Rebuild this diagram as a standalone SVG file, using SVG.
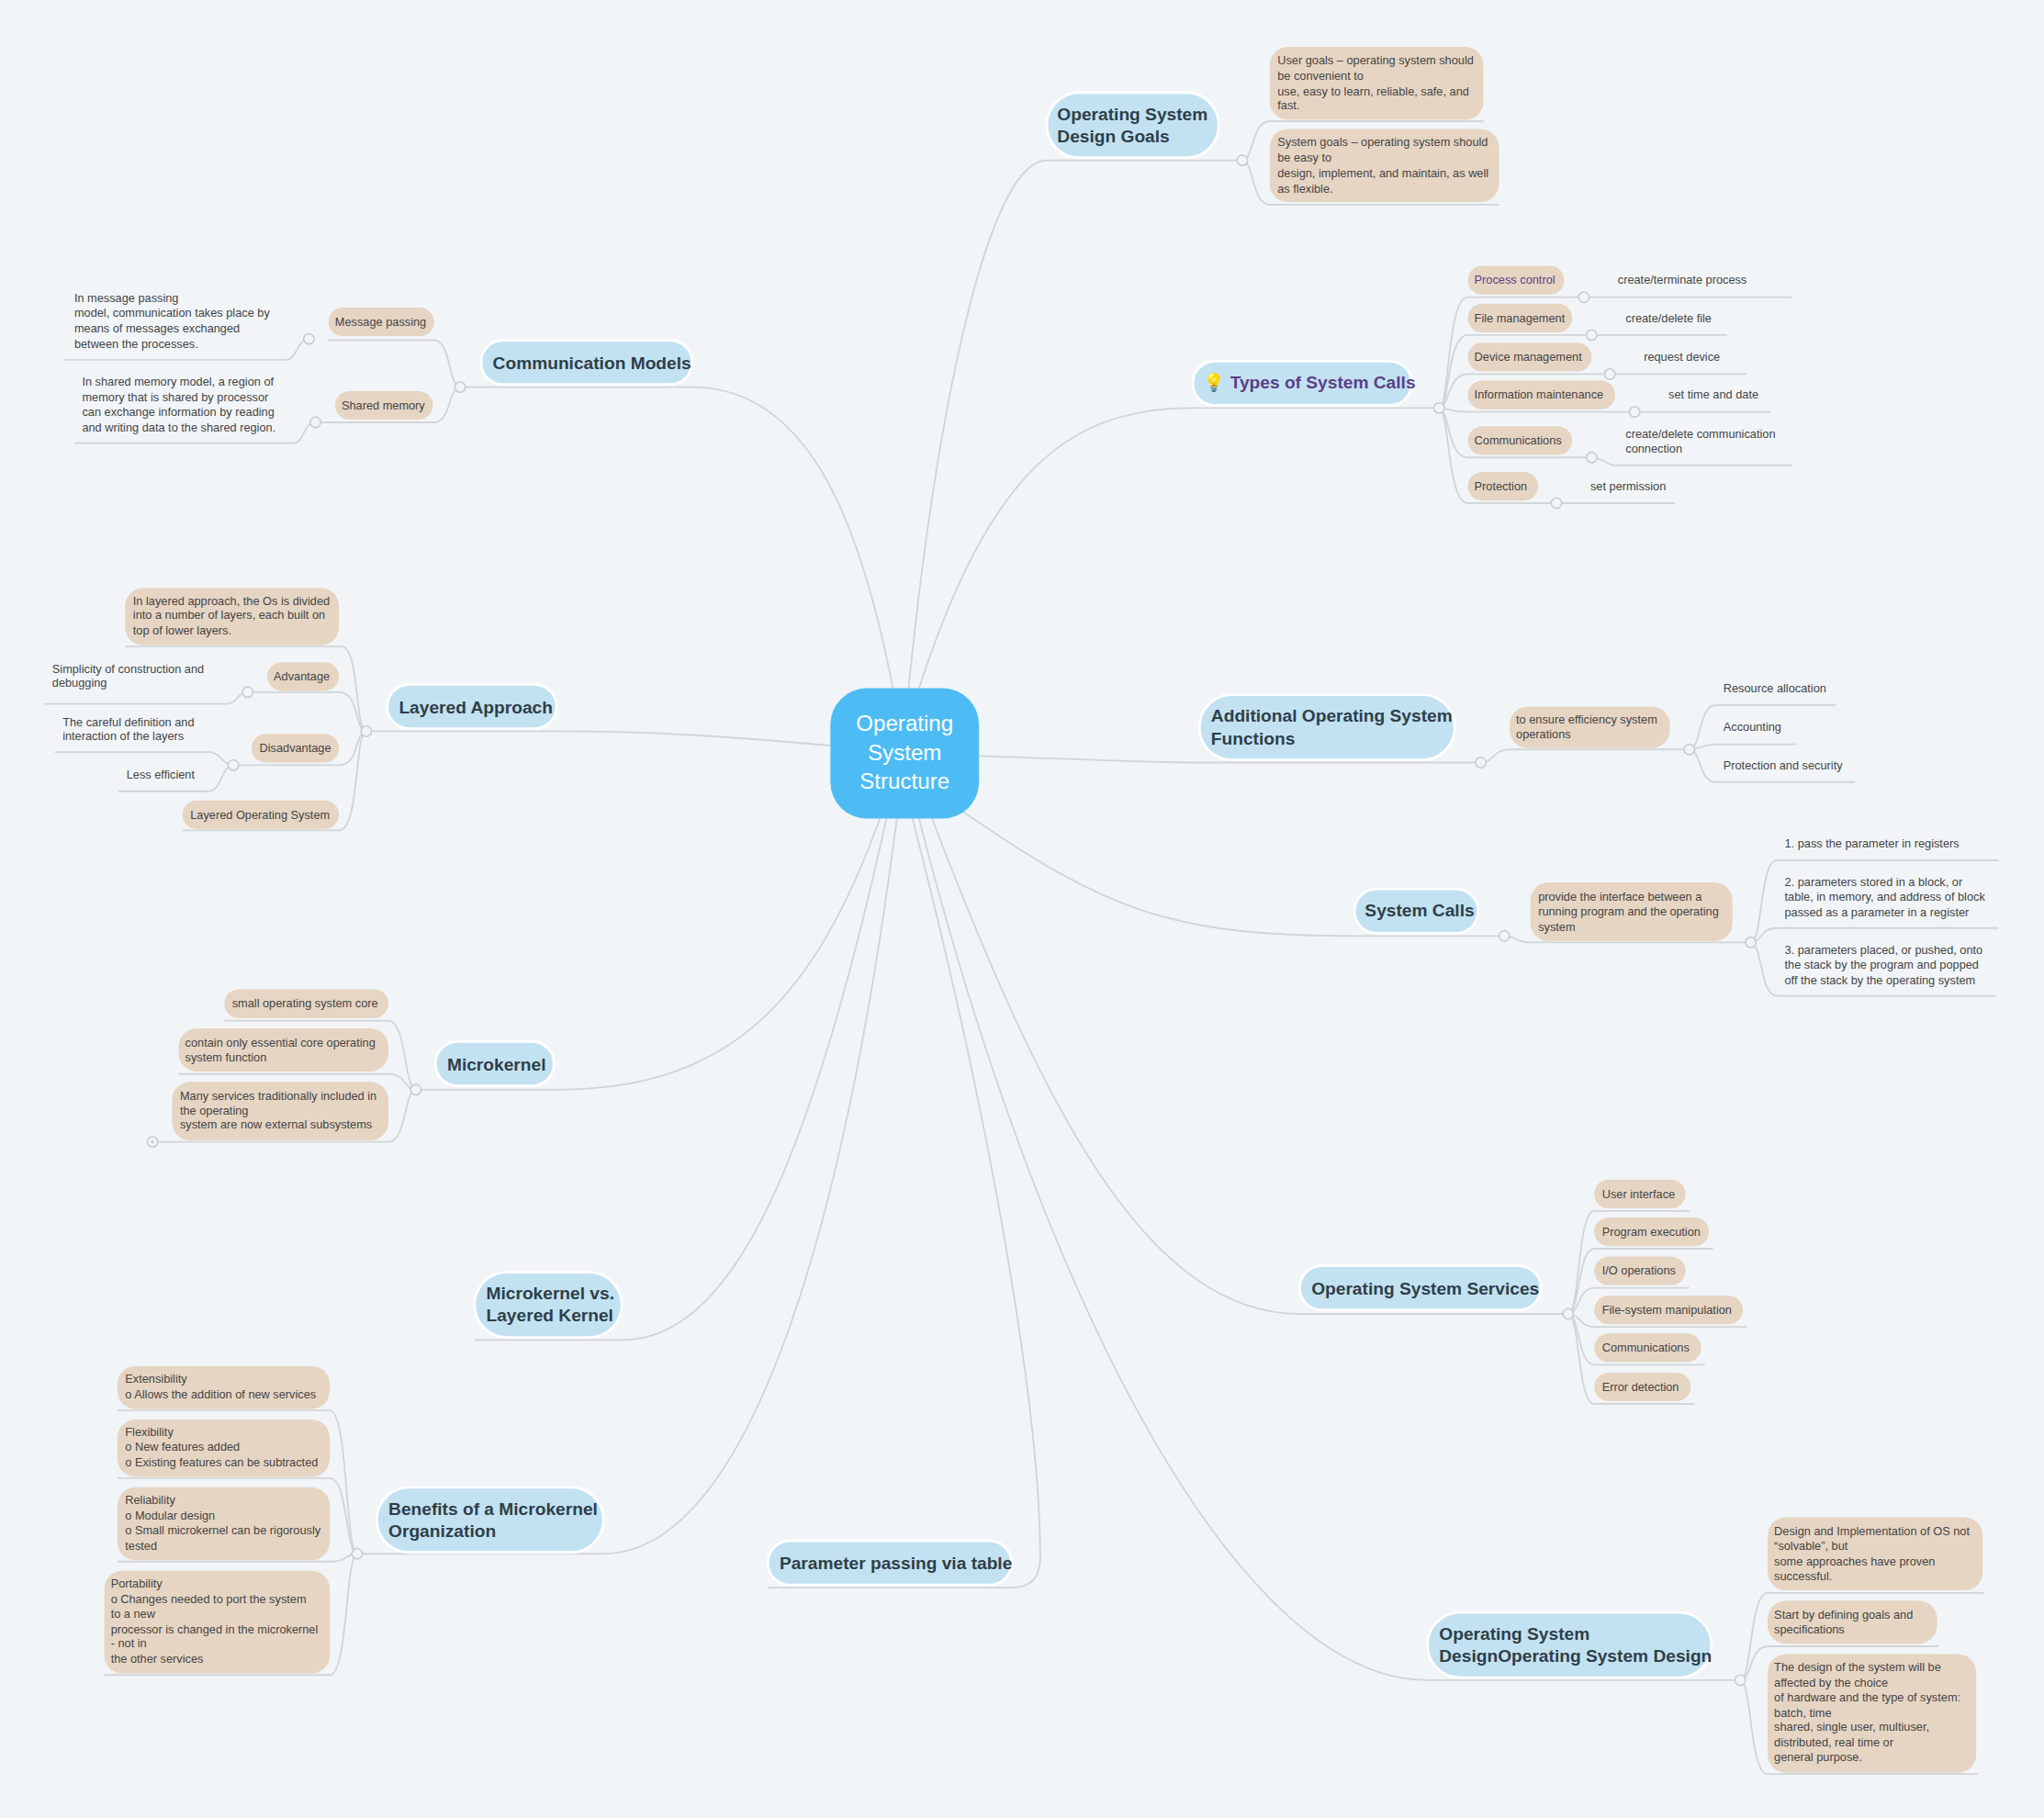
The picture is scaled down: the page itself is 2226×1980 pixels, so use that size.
<svg xmlns="http://www.w3.org/2000/svg" width="2226" height="1980" viewBox="0 0 2226 1980">
<style>
.c{fill:none;stroke:#d2d5d8;stroke-width:1.3}
.k{fill:#f1f5f8;stroke:#c8ccd0;stroke-width:1.1}
.m{fill:#c2e2f2;stroke:#fff;stroke-width:2}
.l{fill:#e6d5c3}
.t{font-family:"Liberation Sans",Arial,sans-serif;font-size:9px;fill:#444}
.h{font-family:"Liberation Sans",Arial,sans-serif;font-size:13.5px;font-weight:bold;fill:#2f3e48}
</style>
<rect width="2226" height="1980" fill="#f1f5f8"/>
<g transform="scale(1.41964)">
<g id="connectors">
<path class="c" d="M697,528 C720,300 760,123 803,123 L953,123"/>
<path class="c" d="M705,528 C760,360 820,313 915,313 L1104,313"/>
<path class="c" d="M751,580 C850,583 880,585 920,585 L1136,585"/>
<path class="c" d="M735,620 C850,700 900,718 1039,718 L1154,718"/>
<path class="c" d="M715,628 C800,850 880,1008 997,1008 L1203,1008"/>
<path class="c" d="M705,628 C800,1000 950,1289 1095,1289 L1335,1289"/>
<path class="c" d="M700,628 C770,900 798,1100 798,1195 Q798,1218 776,1218 L589,1218"/>
<path class="c" d="M688,628 C640,1000 560,1192 463,1192 L274,1192"/>
<path class="c" d="M680,628 C620,900 560,1028 477,1028 L364,1028"/>
<path class="c" d="M675,628 C620,780 550,836 425,836 L319,836"/>
<path class="c" d="M637,572 C560,565 500,561 427,561 L281,561"/>
<path class="c" d="M685,528 C660,400 620,297 531,297 L353,297"/>
<!-- design goals -->
<path class="c" d="M953,123 C962,123 960,93 974,93 L1138,93"/>
<path class="c" d="M953,123 C962,123 960,157 974,157 L1150,157"/>
<!-- types -->
<path class="c" d="M1104,313 C1112,313 1110,228 1126,228 L1375,228"/>
<path class="c" d="M1104,313 C1112,313 1110,257 1126,257 L1325,257"/>
<path class="c" d="M1104,313 C1112,313 1110,287 1126,287 L1340,287"/>
<path class="c" d="M1104,313 C1112,313 1112,316 1126,316 L1358,316"/>
<path class="c" d="M1104,313 C1112,313 1110,351 1126,351 L1221,351 C1230,351 1232,357 1240,357 L1375,357"/>
<path class="c" d="M1104,313 C1112,313 1110,386 1126,386 L1285,386"/>
<!-- additional -->
<path class="c" d="M1136,585 C1146,585 1145,575 1158,575 L1296,575"/>
<path class="c" d="M1296,575 C1305,575 1303,541 1316,541 L1408,541"/>
<path class="c" d="M1296,575 C1305,575 1305,571 1316,571 L1378,571"/>
<path class="c" d="M1296,575 C1305,575 1303,600 1316,600 L1423,600"/>
<!-- system calls -->
<path class="c" d="M1154,718 C1164,718 1162,723 1174,723 L1343,723"/>
<path class="c" d="M1343,723 C1352,723 1350,660 1363,660 L1533,660"/>
<path class="c" d="M1343,723 C1352,723 1350,712 1363,712 L1533,712"/>
<path class="c" d="M1343,723 C1352,723 1350,764 1363,764 L1531,764"/>
<!-- services -->
<path class="c" d="M1203,1008 C1212,1008 1210,929 1223,929 L1296,929"/>
<path class="c" d="M1203,1008 C1212,1008 1210,958 1223,958 L1314,958"/>
<path class="c" d="M1203,1008 C1212,1008 1210,988 1223,988 L1296,988"/>
<path class="c" d="M1203,1008 C1212,1008 1212,1018 1223,1018 L1340,1018"/>
<path class="c" d="M1203,1008 C1212,1008 1210,1047 1223,1047 L1308,1047"/>
<path class="c" d="M1203,1008 C1212,1008 1210,1077 1223,1077 L1300,1077"/>
<!-- os design -->
<path class="c" d="M1335,1289 C1344,1289 1342,1222 1356,1222 L1522,1222"/>
<path class="c" d="M1335,1289 C1344,1289 1342,1263 1356,1263 L1487,1263"/>
<path class="c" d="M1335,1289 C1344,1289 1342,1361 1356,1361 L1517,1361"/>
<!-- communication models -->
<path class="c" d="M353,297 C344,297 346,261 333,261 L252,261"/>
<path class="c" d="M353,297 C344,297 346,324 333,324 L242,324"/>
<path class="c" d="M237,260 C228,260 228,276 219,276 L49,276"/>
<path class="c" d="M242,324 C233,324 233,340 225,340 L57,340"/>
<!-- layered -->
<path class="c" d="M281,561 C272,561 276,496 262,496 L96,496"/>
<path class="c" d="M281,561 C272,561 276,531 260,531 L190,531"/>
<path class="c" d="M281,561 C272,561 276,587 260,587 L179,587"/>
<path class="c" d="M281,561 C272,561 276,637 260,637 L140,637"/>
<path class="c" d="M190,531 C182,531 182,540 174,540 L34,540"/>
<path class="c" d="M179,587 C170,587 170,577 160,577 L42,577"/>
<path class="c" d="M179,587 C170,587 170,607 160,607 L91,607"/>
<!-- microkernel -->
<path class="c" d="M319,836 C310,836 312,783 298,783 L172,783"/>
<path class="c" d="M319,836 C310,836 312,824 298,824 L137,824"/>
<path class="c" d="M319,836 C310,836 312,876 298,876 L117,876"/>
<!-- benefits -->
<path class="c" d="M274,1192 C265,1192 267,1082 253,1082 L90,1082"/>
<path class="c" d="M274,1192 C265,1192 267,1134 253,1134 L90,1134"/>
<path class="c" d="M274,1192 C265,1192 267,1198 253,1198 L90,1198"/>
<path class="c" d="M274,1192 C265,1192 267,1285 253,1285 L80,1285"/>
<g>
<circle class="k" cx="953" cy="123" r="4"/><circle class="k" cx="1104" cy="313" r="4"/>
<circle class="k" cx="1215" cy="228" r="4"/><circle class="k" cx="1221" cy="257" r="4"/>
<circle class="k" cx="1235" cy="287" r="4"/><circle class="k" cx="1254" cy="316" r="4"/>
<circle class="k" cx="1221" cy="351" r="4"/><circle class="k" cx="1194" cy="386" r="4"/>
<circle class="k" cx="1136" cy="585" r="4"/><circle class="k" cx="1296" cy="575" r="4"/>
<circle class="k" cx="1154" cy="718" r="4"/><circle class="k" cx="1343" cy="723" r="4"/>
<circle class="k" cx="1203" cy="1008" r="4"/><circle class="k" cx="1335" cy="1289" r="4"/>
<circle class="k" cx="353" cy="297" r="4"/><circle class="k" cx="237" cy="260" r="4"/>
<circle class="k" cx="242" cy="324" r="4"/><circle class="k" cx="281" cy="561" r="4"/>
<circle class="k" cx="190" cy="531" r="4"/><circle class="k" cx="179" cy="587" r="4"/>
<circle class="k" cx="319" cy="836" r="4"/><circle class="k" cx="274" cy="1192" r="4"/>
<circle class="k" cx="117" cy="876" r="4"/><circle cx="117" cy="876" r="1.2" fill="#c8ccd0"/>
</g>
</g>
<g id="center">
<rect x="637" y="528" width="114" height="100" rx="28" fill="#4dbcf5"/>
<text font-family="Liberation Sans,Arial,sans-serif" font-size="17" fill="#fff" text-anchor="middle"><tspan x="694" y="561">Operating</tspan><tspan x="694" y="583">System</tspan><tspan x="694" y="605">Structure</tspan></text>
</g>
<g id="n-goals"><rect class="m" x="803" y="71" width="132" height="50" rx="25"/><text class="h"><tspan x="811" y="92">Operating System</tspan><tspan x="811" y="109">Design Goals</tspan></text></g>
<g id="n-types"><rect class="m" x="915" y="277" width="168" height="34" rx="17"/><text class="h" x="923" y="298" style="fill:#5b3f86">💡 Types of System Calls</text></g>
<g id="n-additional"><rect class="m" x="920" y="533" width="196" height="50" rx="25"/><text class="h"><tspan x="929" y="554">Additional Operating System</tspan><tspan x="929" y="571">Functions</tspan></text></g>
<g id="n-syscalls"><rect class="m" x="1039" y="682" width="95" height="34" rx="17"/><text class="h" x="1047" y="703">System Calls</text></g>
<g id="n-services"><rect class="m" x="997" y="971" width="185" height="34" rx="17"/><text class="h" x="1006" y="993">Operating System Services</text></g>
<g id="n-design"><rect class="m" x="1095" y="1237" width="218" height="50" rx="25"/><text class="h"><tspan x="1104" y="1258">Operating System</tspan><tspan x="1104" y="1275">DesignOperating System Design</tspan></text></g>
<g id="n-param"><rect class="m" x="589" y="1182" width="187" height="34" rx="17"/><text class="h" x="598" y="1204">Parameter passing via table</text></g>
<g id="n-benefits"><rect class="m" x="289" y="1141" width="174" height="50" rx="25"/><text class="h"><tspan x="298" y="1162">Benefits of a Microkernel</tspan><tspan x="298" y="1179">Organization</tspan></text></g>
<g id="n-mvl"><rect class="m" x="364" y="976" width="113" height="50" rx="25"/><text class="h"><tspan x="373" y="997">Microkernel vs.</tspan><tspan x="373" y="1014">Layered Kernel</tspan></text></g>
<g id="n-micro"><rect class="m" x="334" y="799" width="91" height="34" rx="17"/><text class="h" x="343" y="821">Microkernel</text></g>
<g id="n-layered"><rect class="m" x="297" y="525" width="130" height="34" rx="17"/><text class="h" x="306" y="547">Layered Approach</text></g>
<g id="n-comm"><rect class="m" x="369" y="261" width="162" height="34" rx="17"/><text class="h" x="378" y="283">Communication Models</text></g>
<!-- leaves -->
<g id="l-goal1"><rect class="l" x="974" y="36" width="164" height="56" rx="14"/><text class="t"><tspan x="980" y="49">User goals – operating system should</tspan><tspan x="980" y="61">be convenient to</tspan><tspan x="980" y="73">use, easy to learn, reliable, safe, and</tspan><tspan x="980" y="84">fast.</tspan></text></g>
<g id="l-goal2"><rect class="l" x="974" y="99" width="176" height="56" rx="14"/><text class="t"><tspan x="980" y="112">System goals – operating system should</tspan><tspan x="980" y="124">be easy to</tspan><tspan x="980" y="136">design, implement, and maintain, as well</tspan><tspan x="980" y="148">as flexible.</tspan></text></g>
<g id="l-pc"><rect class="l" x="1126" y="204" width="74" height="22" rx="11"/><text class="t" x="1131" y="218" style="fill:#5b3f86">Process control</text><text class="t" x="1241" y="218">create/terminate process</text></g>
<g id="l-fm"><rect class="l" x="1126" y="233" width="80" height="22" rx="11"/><text class="t" x="1131" y="247">File management</text><text class="t" x="1247" y="247">create/delete file</text></g>
<g id="l-dm"><rect class="l" x="1126" y="263" width="95" height="22" rx="11"/><text class="t" x="1131" y="277">Device management</text><text class="t" x="1261" y="277">request device</text></g>
<g id="l-im"><rect class="l" x="1126" y="292" width="113" height="22" rx="11"/><text class="t" x="1131" y="306">Information maintenance</text><text class="t" x="1280" y="306">set time and date</text></g>
<g id="l-cm"><rect class="l" x="1126" y="327" width="80" height="22" rx="11"/><text class="t" x="1131" y="341">Communications</text><text class="t"><tspan x="1247" y="336">create/delete communication</tspan><tspan x="1247" y="347">connection</tspan></text></g>
<g id="l-pr"><rect class="l" x="1126" y="362" width="54" height="22" rx="11"/><text class="t" x="1131" y="376">Protection</text><text class="t" x="1220" y="376">set permission</text></g>
<g id="l-eff"><rect class="l" x="1158" y="542" width="123" height="32" rx="14"/><text class="t"><tspan x="1163" y="555">to ensure efficiency system</tspan><tspan x="1163" y="566">operations</tspan></text><text class="t" x="1322" y="531">Resource allocation</text><text class="t" x="1322" y="561">Accounting</text><text class="t" x="1322" y="590">Protection and security</text></g>
<g id="l-iface"><rect class="l" x="1174" y="677" width="155" height="45" rx="14"/><text class="t"><tspan x="1180" y="691">provide the interface between a</tspan><tspan x="1180" y="702">running program and the operating</tspan><tspan x="1180" y="714">system</tspan></text></g>
<g id="l-p1"><text class="t" x="1369" y="650">1. pass the parameter in registers</text></g>
<g id="l-p2"><text class="t"><tspan x="1369" y="680">2. parameters stored in a block, or</tspan><tspan x="1369" y="691">table, in memory, and address of block</tspan><tspan x="1369" y="703">passed as a parameter in a register</tspan></text></g>
<g id="l-p3"><text class="t"><tspan x="1369" y="732">3. parameters placed, or pushed, onto</tspan><tspan x="1369" y="743">the stack by the program and popped</tspan><tspan x="1369" y="755">off the stack by the operating system</tspan></text></g>
<g id="l-s1"><rect class="l" x="1223" y="905" width="70" height="22" rx="11"/><text class="t" x="1229" y="919">User interface</text></g>
<g id="l-s2"><rect class="l" x="1223" y="934" width="88" height="22" rx="11"/><text class="t" x="1229" y="948">Program execution</text></g>
<g id="l-s3"><rect class="l" x="1223" y="964" width="70" height="22" rx="11"/><text class="t" x="1229" y="978">I/O operations</text></g>
<g id="l-s4"><rect class="l" x="1223" y="994" width="114" height="22" rx="11"/><text class="t" x="1229" y="1008">File-system manipulation</text></g>
<g id="l-s5"><rect class="l" x="1223" y="1023" width="82" height="22" rx="11"/><text class="t" x="1229" y="1037">Communications</text></g>
<g id="l-s6"><rect class="l" x="1223" y="1053" width="74" height="22" rx="11"/><text class="t" x="1229" y="1067">Error detection</text></g>
<g id="l-d1"><rect class="l" x="1356" y="1164" width="165" height="56" rx="14"/><text class="t"><tspan x="1361" y="1178">Design and Implementation of OS not</tspan><tspan x="1361" y="1189">“solvable”, but</tspan><tspan x="1361" y="1201">some approaches have proven</tspan><tspan x="1361" y="1212">successful.</tspan></text></g>
<g id="l-d2"><rect class="l" x="1356" y="1228" width="130" height="33" rx="14"/><text class="t"><tspan x="1361" y="1242"> Start by defining goals and</tspan><tspan x="1361" y="1253">specifications</tspan></text></g>
<g id="l-d3"><rect class="l" x="1356" y="1269" width="160" height="91" rx="14"/><text class="t"><tspan x="1361" y="1282">The design of the system will be</tspan><tspan x="1361" y="1294">affected by the choice</tspan><tspan x="1361" y="1305">of hardware and the type of system:</tspan><tspan x="1361" y="1317">batch, time</tspan><tspan x="1361" y="1328">shared, single user, multiuser,</tspan><tspan x="1361" y="1340">distributed, real time or</tspan><tspan x="1361" y="1351">general purpose.</tspan></text></g>
<g id="l-mp"><rect class="l" x="252" y="236" width="81" height="22" rx="11"/><text class="t" x="257" y="250">Message passing</text><text class="t"><tspan x="57" y="232">In message passing</tspan><tspan x="57" y="243">model, communication takes place by</tspan><tspan x="57" y="255">means of messages exchanged</tspan><tspan x="57" y="267">between the processes.</tspan></text></g>
<g id="l-sm"><rect class="l" x="257" y="300" width="75" height="22" rx="11"/><text class="t" x="262" y="314">Shared memory</text><text class="t"><tspan x="63" y="296">In shared memory model, a region of</tspan><tspan x="63" y="308">memory that is shared by processor</tspan><tspan x="63" y="319">can exchange information by reading</tspan><tspan x="63" y="331">and writing data to the shared region.</tspan></text></g>
<g id="l-la1"><rect class="l" x="96" y="451" width="164" height="44" rx="14"/><text class="t"><tspan x="102" y="464">In layered approach, the Os is divided</tspan><tspan x="102" y="475">into a number of layers, each built on</tspan><tspan x="102" y="487">top of lower layers.</tspan></text></g>
<g id="l-adv"><rect class="l" x="205" y="508" width="55" height="22" rx="11"/><text class="t" x="210" y="522">Advantage</text><text class="t"><tspan x="40" y="516">Simplicity of construction and</tspan><tspan x="40" y="527">debugging</tspan></text></g>
<g id="l-dis"><rect class="l" x="193" y="563" width="67" height="22" rx="11"/><text class="t" x="199" y="577">Disadvantage</text><text class="t"><tspan x="48" y="557">The careful definition and</tspan><tspan x="48" y="568">interaction of the layers</tspan></text><text class="t" x="97" y="597">Less efficient</text></g>
<g id="l-los"><rect class="l" x="140" y="614" width="120" height="22" rx="11"/><text class="t" x="146" y="628">Layered Operating System</text></g>
<g id="l-mk1"><rect class="l" x="172" y="759" width="126" height="22" rx="11"/><text class="t" x="178" y="773">small operating system core</text></g>
<g id="l-mk2"><rect class="l" x="137" y="789" width="161" height="33" rx="14"/><text class="t"><tspan x="142" y="803">contain only essential core operating</tspan><tspan x="142" y="814">system function</tspan></text></g>
<g id="l-mk3"><rect class="l" x="132" y="830" width="166" height="45" rx="14"/><text class="t"><tspan x="138" y="844">Many services traditionally included in</tspan><tspan x="138" y="855">the operating</tspan><tspan x="138" y="866">system are now external subsystems</tspan></text></g>
<g id="l-b1"><rect class="l" x="90" y="1048" width="163" height="33" rx="14"/><text class="t"><tspan x="96" y="1061">Extensibility</tspan><tspan x="96" y="1073">o Allows the addition of new services</tspan></text></g>
<g id="l-b2"><rect class="l" x="90" y="1089" width="163" height="44" rx="14"/><text class="t"><tspan x="96" y="1102">Flexibility</tspan><tspan x="96" y="1113">o New features added</tspan><tspan x="96" y="1125">o Existing features can be subtracted</tspan></text></g>
<g id="l-b3"><rect class="l" x="90" y="1141" width="163" height="56" rx="14"/><text class="t"><tspan x="96" y="1154">Reliability</tspan><tspan x="96" y="1166">o Modular design</tspan><tspan x="96" y="1177">o Small microkernel can be rigorously</tspan><tspan x="96" y="1189">tested</tspan></text></g>
<g id="l-b4"><rect class="l" x="80" y="1205" width="173" height="79" rx="14"/><text class="t"><tspan x="85" y="1218">Portability</tspan><tspan x="85" y="1230">o Changes needed to port the system</tspan><tspan x="85" y="1241">to a new</tspan><tspan x="85" y="1253">processor is changed in the microkernel</tspan><tspan x="85" y="1264">- not in</tspan><tspan x="85" y="1276">the other services</tspan></text></g>
</g>
</svg>
